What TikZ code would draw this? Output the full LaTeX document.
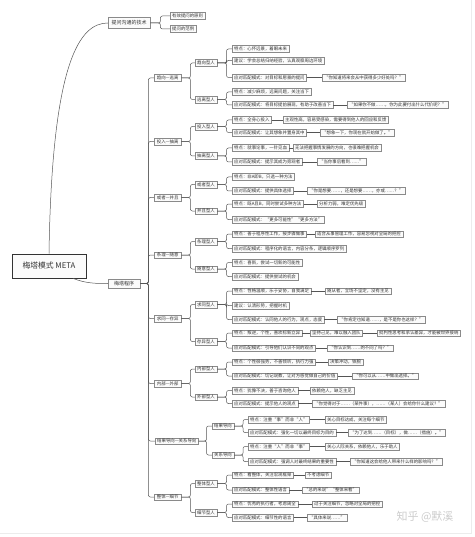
\documentclass[tikz,border=0pt]{standalone}
\usepackage{fontspec}
\newfontfamily\cjk{Noto Sans CJK SC}
\usetikzlibrary{shadows,calc}
\definecolor{boxline}{HTML}{8A8A8A}
\definecolor{txt}{HTML}{333333}
\definecolor{conn}{HTML}{555555}
\newcommand\mybrk[3]{\draw[link] (#1.east) -- ++(#3,0) |- (#2.west);}
\newcommand\mychain[2]{\draw[link] (#1.east) -- (#2.west);}
\begin{document}
\begin{tikzpicture}[x=1pt,y=-1pt,
  base/.style={draw=boxline, fill=gray!3, text=txt, line width=0.4pt,
    drop shadow={shadow xshift=0.5pt, shadow yshift=-0.6pt, opacity=0.25}},
  leaf/.style={base, anchor=west, font=\cjk\fontsize{4.4}{5}\selectfont,
    inner xsep=2pt, inner ysep=0pt, minimum height=6.6pt},
  cat/.style={leaf, minimum width=27pt},
  mid/.style={base, anchor=west, font=\cjk\fontsize{5}{6}\selectfont,
    inner xsep=3pt, inner ysep=0pt},
  rootst/.style={base, draw=txt, line width=0.8pt, font=\cjk\fontsize{7.8}{9}\selectfont,
    minimum width=74pt, minimum height=24pt, inner sep=0pt},
  link/.style={draw=conn, line width=0.5pt, rounded corners=2pt}]
\useasboundingbox (0,0) rectangle (474,537);
\draw[gray!15, line width=0.8pt] (471,0) -- (471,533) -- (0,533);

% root and first level
\node[rootst] (r) at (49,266) {梅塔模式 META};
\node[mid, minimum width=42pt, minimum height=11pt] (q0) at (108,23) {提问沟通的技术};
\node[mid, minimum width=32pt, minimum height=9.5pt] (m) at (108,283.5) {梅塔程序};
\node[leaf] (q1) at (170,16) {有效提问的原则};
\node[leaf] (q2) at (170,29) {提问的范例};
\draw[link] (r.north) .. controls (52,60) and (80,23) .. (q0.west);
\draw[link] ($(r.south)+(24,0)$) .. controls (86,283.5) and (96,283.5) .. (m.west);
\mybrk{q0}{q1}{10}
\mybrk{q0}{q2}{10}

% categories
\node[cat] (c1) at (154,78) {趋向—逃离};
\node[cat] (c2) at (154,141.5) {投入—抽离};
\node[cat] (c3) at (154,197.5) {或者—并且};
\node[cat] (c4) at (154,255) {条理—随意};
\node[cat] (c5) at (154,318.5) {求同—存异};
\node[cat] (c6) at (154,383.5) {内部—外部};
\node[cat] (c7) at (155,441) {结果导向—关系导向};
\node[cat] (c8) at (154,497) {整体—细节};
\foreach \c in {c1,c2,c3,c4,c5,c6,c7,c8} {\draw[link] (m.east) -- ++(8,0) |- (\c.west);}

% types
\node[leaf] (t11) at (195,63) {趋向型人};
\node[leaf] (t12) at (195,99.5) {逃离型人};
\node[leaf] (t21) at (195,126.5) {投入型人};
\node[leaf] (t22) at (195,156) {抽离型人};
\node[leaf] (t31) at (195,184.5) {或者型人};
\node[leaf] (t32) at (195,211) {并且型人};
\node[leaf] (t41) at (195,241.5) {条理型人};
\node[leaf] (t42) at (195,269) {随意型人};
\node[leaf] (t51) at (195,304.5) {求同型人};
\node[leaf] (t52) at (195,341.5) {存异型人};
\node[leaf] (t61) at (195,369) {内部型人};
\node[leaf] (t62) at (195,397) {外部型人};
\node[leaf] (t71) at (212,426) {结果导向};
\node[leaf] (t72) at (212,455) {关系导向};
\node[leaf] (t81) at (195,483.5) {整体型人};
\node[leaf] (t82) at (195,512.5) {细节型人};
\mybrk{c1}{t11}{9} \mybrk{c1}{t12}{9}
\mybrk{c2}{t21}{9} \mybrk{c2}{t22}{9}
\mybrk{c3}{t31}{9} \mybrk{c3}{t32}{9}
\mybrk{c4}{t41}{9} \mybrk{c4}{t42}{9}
\mybrk{c5}{t51}{9} \mybrk{c5}{t52}{9}
\mybrk{c6}{t61}{9} \mybrk{c6}{t62}{9}
\mybrk{c7}{t71}{8} \mybrk{c7}{t72}{8}
\mybrk{c8}{t81}{9} \mybrk{c8}{t82}{9}

% leaves: 趋向型人
\node[leaf] (l111) at (232,49) {特点：心怀远景，着眼未来};
\node[leaf] (l112) at (232,60.5) {建议：学会总结归纳经验，认真观察周边环境};
\node[leaf] (l113) at (232,77.5) {应对匹配模式：对目标和愿景的提问};
\node[leaf] (l113a) at (322,77.5) {“你知道将来会从中获得多少好处吗？”};
\mybrk{t11}{l111}{9.5} \mybrk{t11}{l112}{9.5} \mybrk{t11}{l113}{9.5}
\mychain{l113}{l113a}
% 逃离型人
\node[leaf] (l121) at (232,92) {特点：减少麻烦，远离问题，关注当下};
\node[leaf] (l122) at (232,105) {应对匹配模式：将目标提前展现，有助于改善当下};
\node[leaf] (l122a) at (347,105) {“如果你不做……，你为此要付出什么代价呢？”};
\mybrk{t12}{l121}{9.5} \mybrk{t12}{l122}{9.5}
\mychain{l122}{l122a}
% 投入型人
\node[leaf] (l211) at (232,120) {特点：全身心投入};
\node[leaf] (l211a) at (283,120) {主观性高，容易受感染，需要得到他人的回应和反馈};
\node[leaf] (l212) at (232,132.5) {应对匹配模式：让其想象并置身其中};
\node[leaf] (l212a) at (320,132.5) {“想象一下，你现在就开始做了。”};
\mybrk{t21}{l211}{9.5} \mybrk{t21}{l212}{9.5}
\mychain{l211}{l211a} \mychain{l212}{l212a}
% 抽离型人
\node[leaf] (l221) at (232,148) {特点：就事论事，一针见血};
\node[leaf] (l221a) at (293,148) {无法把握事情发展的方向，也很难把握机会};
\node[leaf] (l222) at (232,162) {应对匹配模式：提示其成为旁观者};
\node[leaf] (l222a) at (317,162) {“当你事后看到……”};
\mybrk{t22}{l221}{9.5} \mybrk{t22}{l222}{9.5}
\mychain{l221}{l221a} \mychain{l222}{l222a}
% 或者型人
\node[leaf] (l311) at (232,177) {特点：非A即B，只选一种方法};
\node[leaf] (l312) at (232,191) {应对匹配模式：提供具体选择};
\node[leaf] (l312a) at (307,191) {“你是想要……，还是想要……，亦或……？”};
\mybrk{t31}{l311}{9.5} \mybrk{t31}{l312}{9.5}
\mychain{l312}{l312a}
% 并且型人
\node[leaf] (l321) at (232,204) {特点：既A且B，同时尝试多种方法};
\node[leaf] (l321a) at (317,204) {分析力弱，难定优先级};
\node[leaf] (l322) at (232,219.5) {应对匹配模式：“更多可能性”“更多方法”};
\mybrk{t32}{l321}{9.5} \mybrk{t32}{l322}{9.5}
\mychain{l321}{l321a}
% 条理型人
\node[leaf] (l411) at (232,234) {特点：善于程序性工作，按步骤做事};
\node[leaf] (l411a) at (315,234) {适合从事管理工作，容易忽视对全局的把控};
\node[leaf] (l412) at (232,248.5) {应对匹配模式：程序化的语言，内容分条，逻辑顺序罗列};
\mybrk{t41}{l411}{9.5} \mybrk{t41}{l412}{9.5}
\mychain{l411}{l411a}
% 随意型人
\node[leaf] (l421) at (232,262.5) {特点：喜新，尝试一切新的可能性};
\node[leaf] (l422) at (232,276.5) {应对匹配模式：提供尝试的机会};
\mybrk{t42}{l421}{9.5} \mybrk{t42}{l422}{9.5}
% 求同型人
\node[leaf] (l511) at (232,291) {特点：性格温顺，乐于妥协，自我满足};
\node[leaf] (l511a) at (325,291) {随从者，立场不坚定，没有主见};
\node[leaf] (l512) at (232,305.5) {建议：认清形势，把握时机};
\node[leaf] (l513) at (232,319.5) {应对匹配模式：认同他人的行为，观点，态度};
\node[leaf] (l513a) at (337,319.5) {“你肯定也知道……，是不是你也这样？”};
\mybrk{t51}{l511}{9.5} \mybrk{t51}{l512}{9.5} \mybrk{t51}{l513}{9.5}
\mychain{l511}{l511a} \mychain{l513}{l513a}
% 存异型人
\node[leaf] (l521) at (232,333) {特点：叛逆，个性，喜欢标新立异};
\node[leaf] (l521a) at (310,333) {坚持己见，难以融入团队};
\node[leaf] (l521b) at (377,333) {批判性思考和承认差异，才能被世界接纳};
\node[leaf] (l522) at (232,348) {应对匹配模式：引导他们认识不同的观点};
\node[leaf] (l522a) at (327,348) {“你认识到……的不同了吗？”};
\mybrk{t52}{l521}{9.5} \mybrk{t52}{l522}{9.5}
\mychain{l521}{l521a} \mychain{l521a}{l521b} \mychain{l522}{l522a}
% 内部型人
\node[leaf] (l611) at (232,362) {特点：个性很强势，不善倾听，执行力强};
\node[leaf] (l611a) at (328,362) {决策冲动，铁腕};
\node[leaf] (l612) at (232,376) {应对匹配模式：切记说教，让对方感觉做自己的价值};
\node[leaf] (l612a) at (352,376) {“你可以从……中做出选择。”};
\mybrk{t61}{l611}{9.5} \mybrk{t61}{l612}{9.5}
\mychain{l611}{l611a} \mychain{l612}{l612a}
% 外部型人
\node[leaf] (l621) at (232,390.5) {特点：犹豫不决，善于咨询他人};
\node[leaf] (l621a) at (310,390.5) {依赖他人，缺乏主见};
\node[leaf] (l622) at (232,403.5) {应对匹配模式：提示他人的观点};
\node[leaf] (l622a) at (312,403.5) {“你觉得对于……（某件事），……（某人）会给你什么建议？”};
\mybrk{t62}{l621}{9.5} \mybrk{t62}{l622}{9.5}
\mychain{l621}{l621a} \mychain{l622}{l622a}
% 结果导向
\node[leaf] (l711) at (248,419.5) {特点：注重“事”而非“人”};
\node[leaf] (l711a) at (325,419.5) {关心目标达成，关注每个细节};
\node[leaf] (l712) at (248,432.5) {应对匹配模式：强化一切以最终目标为目的};
\node[leaf] (l712a) at (348,432.5) {“为了达到……（目标），做……（措施）。”};
\mybrk{t71}{l711}{9} \mybrk{t71}{l712}{9}
\mychain{l711}{l711a} \mychain{l712}{l712a}
% 关系导向
\node[leaf] (l721) at (248,446.5) {特点：注重“人”而非“事”};
\node[leaf] (l721a) at (325,446.5) {关心人际关系，依赖他人，乐于助人};
\node[leaf] (l722) at (248,461.5) {应对匹配模式：强调人对最终结果的重要性};
\node[leaf] (l722a) at (350,461.5) {“你知道这会给他人带来什么样的影响吗？”};
\mybrk{t72}{l721}{9} \mybrk{t72}{l722}{9}
\mychain{l721}{l721a} \mychain{l722}{l722a}
% 整体型人
\node[leaf] (l811) at (232,475) {特点：看整体，关注宏观框架};
\node[leaf] (l811a) at (305,475) {不考虑细节};
\node[leaf] (l812) at (232,490) {应对匹配模式：整体性语言};
\node[leaf] (l812a) at (302,490) {“总的来说”“整体来看”};
\mybrk{t81}{l811}{9.5} \mybrk{t81}{l812}{9.5}
\mychain{l811}{l811a} \mychain{l812}{l812a}
% 细节型人
\node[leaf] (l821) at (232,504) {特点：优秀的执行者，考虑周全};
\node[leaf] (l821a) at (312,504) {过于关注细节，忽略对全局的把控};
\node[leaf] (l822) at (232,517.5) {应对匹配模式：细节性的语言};
\node[leaf] (l822a) at (307,517.5) {“具体来说……”};
\mybrk{t82}{l821}{9.5} \mybrk{t82}{l822}{9.5}
\mychain{l821}{l821a} \mychain{l822}{l822a}

% watermark
\node[font=\cjk\fontsize{11}{13}\selectfont, text=gray!40] (wm) at (425,516.5) {知乎 @默溪};
\end{tikzpicture}
\end{document}
